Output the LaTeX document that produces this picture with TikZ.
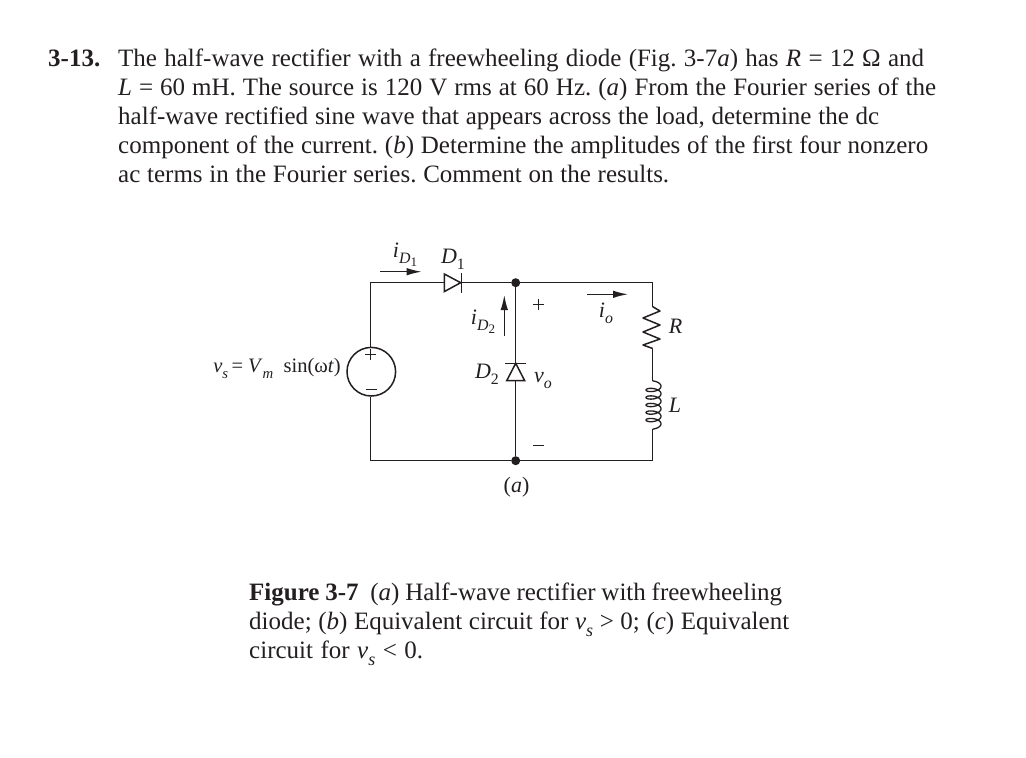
\documentclass[tikz,border=0pt]{standalone}
\usepackage{fontspec}
\setmainfont{Liberation Serif}
\usetikzlibrary{arrows.meta}
\newcommand{\bodyf}{\fontsize{25}{29}\selectfont\frenchspacing}
\newcommand{\figf}{\fontsize{22}{26}\selectfont}
\newcommand{\sbf}[1]{\raisebox{-0.3em}{\fontsize{0.72em}{1em}\selectfont #1}}
\newcommand{\sbb}[1]{\raisebox{-0.2em}{\fontsize{13}{15}\selectfont #1}}
\newcommand{\fitl}[2]{\makebox[#1pt][s]{#2}}
\definecolor{ink}{RGB}{35,31,32}
\tikzset{
  txt/.style={inner sep=0pt,anchor=base west,text=ink,font=\bodyf},
  lab/.style={inner sep=0pt,anchor=base,text=ink,font=\figf},
  wire/.style={draw=ink,line width=1.5pt,line join=miter},
  thinl/.style={draw=ink,line width=1.3pt},
  curarrow/.style={draw=ink,line width=1.4pt,-{Latex[length=15pt,width=7.5pt]}},
  dot/.style={circle,fill=ink,inner sep=0pt,minimum size=9pt},
  src/.style={circle,draw=ink,line width=1.5pt,inner sep=0pt,minimum size=48.6pt}
}
\begin{document}
\begin{tikzpicture}[x=1pt,y=-1pt]
\useasboundingbox (0,0) rectangle (1026,758);
% problem text
\node[txt] (num) at (48,66) {\textbf{3-13.}};
\node[txt] (l1) at (118,66) {\fitl{806}{The half-wave rectifier with a freewheeling diode (Fig. 3-7\textit{a}) has \textit{R} = 12 Ω and}};
\node[txt] (l2) at (118,95) {\fitl{818}{\textit{L} = 60 mH. The source is 120 V rms at 60 Hz. (\textit{a}) From the Fourier series of the}};
\node[txt] (l3) at (118,124) {\fitl{761}{half-wave rectified sine wave that appears across the load, determine the dc}};
\node[txt] (l4) at (118,153) {\fitl{810}{component of the current. (\textit{b}) Determine the amplitudes of the first four nonzero}};
\node[txt] (l5) at (118,182) {\fitl{551}{ac terms in the Fourier series. Comment on the results.}};
% caption
\node[txt] (c1) at (249,600) {\fitl{533}{\textbf{Figure 3-7}\ \ (\textit{a}) Half-wave rectifier with freewheeling}};
\node[txt] (c2) at (249,629) {\fitl{540}{diode; (\textit{b}) Equivalent circuit for \textit{v}\sbf{\textit{s}} > 0; (\textit{c}) Equivalent}};
\node[txt] (c3) at (249,658) {\fitl{174}{circuit for \textit{v}\sbf{\textit{s}} < 0.}};
% circuit anchors
\coordinate (tl) at (370.7,282.7);
\coordinate (tr) at (652.7,282.7);
\coordinate (bl) at (370.7,460.7);
\coordinate (br) at (652.7,460.7);
\node[dot] (jt) at (515.7,282.7) {};
\node[dot] (jb) at (515.7,460.7) {};
\node[src] (vs) at (371.3,371.7) {};
\coordinate (d1a) at (444.3,282.7);
\coordinate (d1k) at (461.5,282.7);
\coordinate (d2a) at (515.7,380.7);
\coordinate (d2k) at (515.7,363.3);
\coordinate (rt) at (652.7,306.7);
\coordinate (rb) at (652.7,348.5);
\coordinate (lt) at (652.7,380.7);
\coordinate (lb) at (652.7,429.3);
% wires
\draw[wire] (vs.north -| tl) -- (tl) -- (d1a);
\draw[wire] (d1k) -- (jt) -- (tr) -- (rt);
\draw[wire] (rb) -- (lt);
\draw[wire] (lb) -- (br) -- (jb) -- (bl) -- (vs.south -| bl);
\draw[wire] (jt) -- (d2k);
\draw[wire] (d2a) -- (jb);
% diodes
\draw[wire,fill=white] (444.3,274) -- (460.7,282.7) -- (444.3,291.6) -- cycle;
\draw[wire] (461.7,273) -- (461.7,293);
\draw[wire,fill=white] (506.7,380.7) -- (515.7,363.3) -- (524.7,380.7) -- cycle;
\draw[wire] (505,363.3) -- (526,363.3);
% resistor
\draw[wire,line join=round] (rt) -- (660,311) -- (643,318) -- (660,325) -- (643,332) -- (660,339) -- (643,345) -- (rb);
% inductor
\draw[thinl,line join=round] (lt) -- plot[smooth,domain=-90:1890,samples=160,variable=\t]
  ({653.5+7.5*cos(\t)},{386.2+\t*0.0209+3.3*sin(\t)}) -- (lb);
% current arrows
\coordinate (a1s) at (380,271.7); \coordinate (a1e) at (421.7,271.7);
\coordinate (a2s) at (504.3,336); \coordinate (a2e) at (504.3,295);
\coordinate (a3s) at (587,294.3); \coordinate (a3e) at (628,294.3);
\draw[curarrow] (a1s) -- (a1e);
\draw[curarrow] (a2s) -- (a2e);
\draw[curarrow] (a3s) -- (a3e);
% source marks
\coordinate (pc) at (370.7,354.5); \coordinate (mc) at (371,389.5);
\draw[draw=ink,line width=.8pt] (pc) ++(-5.5,0) -- ++(11,0) (pc) ++(0,-5.5) -- ++(0,11);
\draw[draw=ink,line width=1.3pt] (mc) ++(-5.5,0) -- ++(11,0);
% polarity
\coordinate (pv) at (538.5,304); \coordinate (mv) at (538.5,445);
\draw[draw=ink,line width=.7pt] (pv) ++(-5.5,0) -- ++(11,0) (pv) ++(0,-5.5) -- ++(0,11);
\draw[draw=ink,line width=.9pt] (mv) ++(-5.5,0) -- ++(11,0);
% labels
\node[lab] (iD1) at (405,257) {\textit{i}\sbf{\textit{D}\sbb{1}}};
\node[lab] (D1) at (453,263) {\textit{D}\sbf{1}};
\node[lab] (iD2) at (483,324) {\textit{i}\sbf{\textit{D}\sbb{2}}};
\node[lab] (D2) at (487,378) {\textit{D}\sbf{2}};
\node[lab] (vo) at (543,382) {\textit{v}\sbf{\textit{o}}};
\node[lab] (io) at (606,317) {\textit{i}\sbf{\textit{o}}};
\node[lab] (R) at (675.5,333) {\textit{R}};
\node[lab] (L) at (675,412) {\textit{L}};
\node[lab] (a) at (516.5,492) {(\textit{a})};
\node[lab,anchor=base east,font=\fontsize{20.5}{24}\selectfont] (vsl) at (341,372) {\textit{v}\sbf{\textit{s}}\,= \textit{V}\sbf{\textit{m}}\ \ sin(ω\textit{t})};
\end{tikzpicture}
\end{document}
